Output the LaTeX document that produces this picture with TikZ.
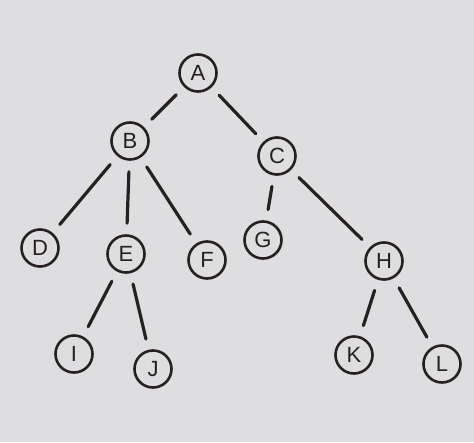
\documentclass[tikz,border=0pt]{standalone}
\usepackage{fontspec}
\setmainfont{Liberation Sans}
\usepackage{tikz}

\begin{document}
\begin{tikzpicture}[x=1pt, y=-1pt,
        vertex/.style={draw=ink, line width=2.6pt, circle, minimum size=37pt, inner sep=0pt, text=ink, font=\fontsize{22}{24}\selectfont},
        branch/.style={draw=ink, line width=3.2pt, line cap=round, shorten <=11pt, shorten >=11pt}]
            \definecolor{paper}{RGB}{222,222,224}
            \definecolor{ink}{RGB}{38,32,32}
            \fill[paper] (0,0) rectangle (474,442);
            \useasboundingbox (0,0) rectangle (474,442);
            \node[vertex] (A) at (198, 73) {A};
            \node[vertex] (B) at (130, 141) {B};
            \node[vertex] (C) at (277, 156) {C};
            \node[vertex] (D) at (40, 248) {D};
            \node[vertex] (E) at (126, 254) {E};
            \node[vertex] (F) at (207, 260) {F};
            \node[vertex] (G) at (263, 240) {G};
            \node[vertex] (H) at (384, 261) {H};
            \node[vertex] (I) at (74, 354) {I};
            \node[vertex] (J) at (153, 369) {J};
            \node[vertex] (K) at (354, 355) {K};
            \node[vertex] (L) at (442, 364) {L};
            \draw[branch] (A) -- (B);
            \draw[branch] (A) -- (C);
            \draw[branch] (B) -- (D);
            \draw[branch] (B) -- (E);
            \draw[branch] (B) -- (F);
            \draw[branch] (C) -- (G);
            \draw[branch] (C) -- (H);
            \draw[branch] (E) -- (I);
            \draw[branch] (E) -- (J);
            \draw[branch] (H) -- (K);
            \draw[branch] (H) -- (L);
        \end{tikzpicture}
\end{document}
